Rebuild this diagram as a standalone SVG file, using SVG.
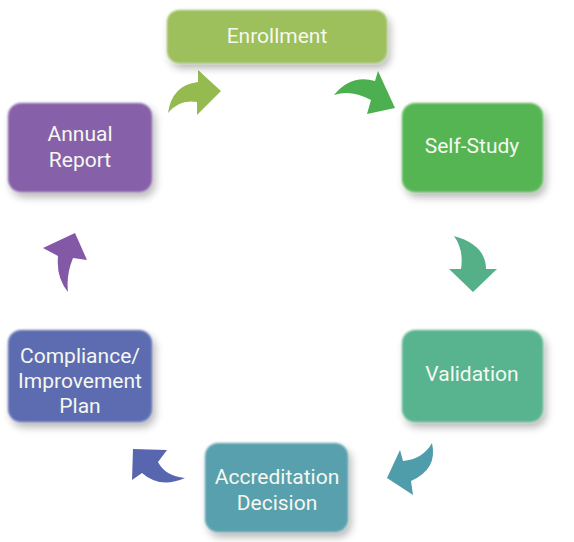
<svg xmlns="http://www.w3.org/2000/svg" width="574" height="542" viewBox="0 0 574 542">
<defs>
<filter id="sh" x="-20%" y="-20%" width="145%" height="150%">
<feGaussianBlur in="SourceGraphic" stdDeviation="0.8" result="b"/>
<feGaussianBlur in="SourceAlpha" stdDeviation="4" result="s"/>
<feOffset in="s" dx="3" dy="5" result="so"/>
<feComponentTransfer in="so" result="sc"><feFuncA type="linear" slope="0.3"/></feComponentTransfer>
<feMerge><feMergeNode in="sc"/><feMergeNode in="b"/></feMerge>
</filter>
</defs>
<style>
.box{filter:url(#sh)}
.t{font-family:Roboto,"Liberation Sans",sans-serif;font-size:21px;fill:#f6f8f0;text-anchor:middle}
</style>
<rect width="574" height="542" fill="#ffffff"/>
<g id="connectors">
<path id="a1" d="M168,113 Q172,85 198,82 L198,70 L221,91 L197,115 L197,102 Q179,99 168,113 Z" fill="#95bb50"/>
<path id="a2" d="M334,95 Q351,74 375,81 L378,71 L395,108 L367,114 L371,100 Q351,89 334,95 Z" fill="#4caf50"/>
<path id="a3" d="M454,236 Q486,245 486,269 L497,269 L473,292 L449,269 L461,269 Q464,250 454,236 Z" fill="#55b088"/>
<path id="a4" d="M432,443 Q438,469 411,481 L413,495 L387,478 L400,450 L403,461 Q423,459 432,443 Z" fill="#4f9dab"/>
<path id="a5" d="M185,478 Q165,476 158,462 L167,450 L133,449 L132,480 L142,473 Q160,489 185,478 Z" fill="#5866b0"/>
<path id="a6" d="M68,292 Q56,278 58,256 L43,248 L75,233 L87,260 L73,258 Q66,275 68,292 Z" fill="#8358a6"/>
</g>
<g id="enrollment">
<rect class="box" x="167" y="10" width="220" height="53" rx="12" fill="#9dbf5c"/>
<text class="t" x="277" y="43">Enrollment</text>
</g>
<g id="self-study">
<rect class="box" x="402" y="103" width="141" height="89" rx="13" fill="#55b552"/>
<text class="t" x="472" y="153">Self-Study</text>
</g>
<g id="validation">
<rect class="box" x="402" y="330" width="141" height="92" rx="13" fill="#58b38f"/>
<text class="t" x="472" y="381">Validation</text>
</g>
<g id="accreditation">
<rect class="box" x="205" y="443" width="143" height="89" rx="13" fill="#59a0ad"/>
<text class="t" x="277" y="484">Accreditation</text>
<text class="t" x="277" y="510">Decision</text>
</g>
<g id="compliance">
<rect class="box" x="8" y="330" width="144" height="92" rx="13" fill="#5d6cb1"/>
<text class="t" x="80" y="363">Compliance/</text>
<text class="t" x="80" y="388">Improvement</text>
<text class="t" x="80" y="413">Plan</text>
</g>
<g id="annual">
<rect class="box" x="8" y="103" width="144" height="89" rx="13" fill="#8660a8"/>
<text class="t" x="80" y="141">Annual</text>
<text class="t" x="80" y="167">Report</text>
</g>
</svg>
